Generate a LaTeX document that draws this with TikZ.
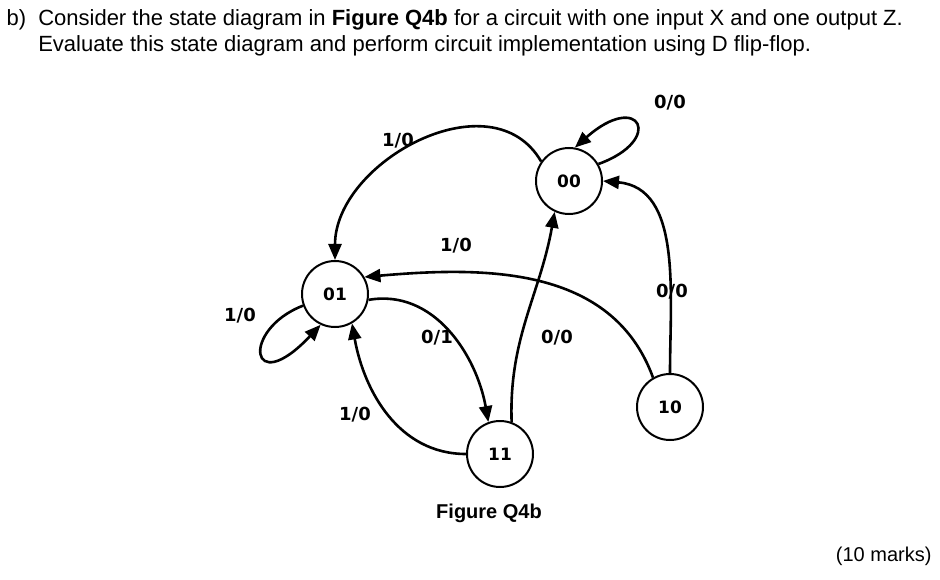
\documentclass[tikz,border=0pt]{standalone}
\usepackage{fontspec}
\setmainfont{Liberation Sans}
\newfontfamily\labfont{DejaVu Sans}
\usetikzlibrary{arrows.meta,positioning}
\begin{document}
\begin{tikzpicture}[x=1pt,y=-1pt,>={Triangle[length=16pt,width=13pt]},
    state/.style={circle, draw, line width=2pt, minimum size=66pt, inner sep=0pt, font=\labfont\bfseries\fontsize{17}{17}\selectfont},
    trans/.style={->, line width=2.6pt},
    lab/.style={font=\labfont\bfseries\fontsize{18}{18}\selectfont}]

    \useasboundingbox (0,0) rectangle (940,580);

    % Question text
    \node[anchor=west, font=\fontsize{22}{26}\selectfont, align=left] (q) at (3,33)
        {b)\ \ Consider the state diagram in \textbf{Figure Q4b} for a circuit with one input X and one output Z.\\
         \phantom{b)\ \ }Evaluate this state diagram and perform circuit implementation using D flip-flop.};

    % States
    \node[state] (S00) at (569,181) {00};
    \node[state] (S01) at (335,294) {01};
    \node[state] (S11) at (500,454) {11};
    \node[state] (S10) at (670,407) {10};

    % Transitions
    \draw[trans] (S00.30) .. controls (665,140) and (640,90) .. (S00.80);
    \draw[trans] (S00.145) to[out=120, in=90, looseness=1.1] (S01.north);
    \draw[trans] (S10.north) to[out=90, in=-5] (S00.east);
    \draw[trans] (S10.120) to[out=110, in=5] (S01.30);
    \draw[trans] (S01.-10) to[out=10, in=100] (S11.110);
    \draw[trans] (S11.70) to[out=92, in=-100] (S00.-115);
    \draw[trans] (S11.west) to[out=180, in=-80] (S01.-60);
    \draw[trans] (S01.200) .. controls (240,330) and (250,400) .. (S01.-115);

    % Labels
    \node[lab] (l1) at (670,103) {0/0};
    \node[lab] (l2) at (398,141) {1/0};
    \node[lab] (l3) at (672,292) {0/0};
    \node[lab] (l4) at (456,246) {1/0};
    \node[lab] (l5) at (437,338) {0/1};
    \node[lab] (l6) at (557,338) {0/0};
    \node[lab] (l7) at (355,415) {1/0};
    \node[lab] (l8) at (240,316) {1/0};

    % Caption
    \node[font=\bfseries\fontsize{20}{20}\selectfont] (cap) at (489,513) {Figure Q4b};
    \node[anchor=east, font=\fontsize{20}{20}\selectfont] (marks) at (935,556) {(10 marks)};
\end{tikzpicture}
\end{document}
